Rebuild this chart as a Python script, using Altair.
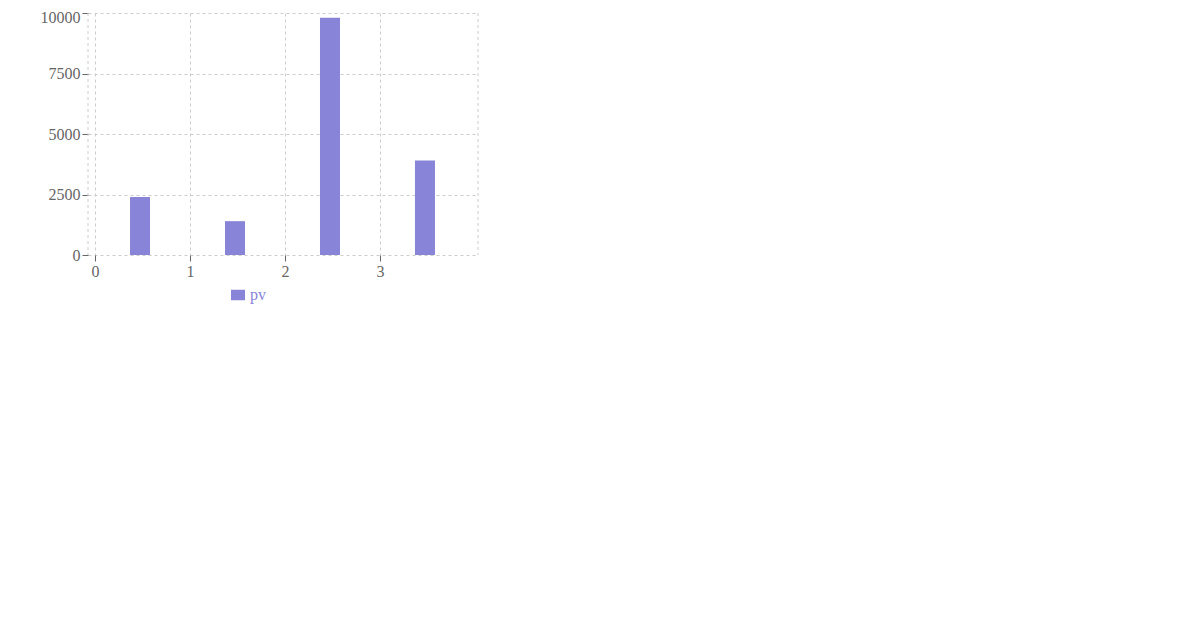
import altair as alt
import pandas as pd

# data
positions = [0.5, 1.5, 2.5, 3.5]
pv = [2400, 1398, 9800, 3908]
series = ["pv", "pv", "pv", "pv"]
x_ticks = [0, 1, 2, 3]
y_ticks = [0, 2500, 5000, 7500, 10000]
x_domain = [-0.074, 4.032]
x_edges = [-0.074, 4.032]

bars_df = pd.DataFrame({"x": positions, "pv": pv, "series": series})
edges_df = pd.DataFrame({"gx": x_edges})

xscale = alt.Scale(domain=x_domain, nice=False, zero=False, padding=0)
yscale = alt.Scale(domain=[0, 10000], nice=False)

xaxis = alt.Axis(
    values=x_ticks, title=None, grid=True, gridDash=[3, 3], gridColor="#ccc",
    domain=False, tickSize=6, tickColor="#666", labelPadding=2,
    format="d", labelFlush=False)

bars = alt.Chart(bars_df).mark_bar(size=20, xOffset=-2.5).encode(
    x=alt.X("x:Q", scale=xscale, axis=xaxis),
    y=alt.Y("pv:Q", scale=yscale, axis=alt.Axis(
        values=y_ticks, title=None, grid=True, gridDash=[3, 3], gridColor="#ccc",
        domain=False, tickSize=6, tickColor="#666", labelPadding=2,
        labelOffset={"condition": {"test": "datum.value == 10000", "value": 4}, "value": 0},
        format="d", labelFlush=False)),
    color=alt.Color("series:N", scale=alt.Scale(range=["#8884d8"]),
                    legend=alt.Legend(title=None, orient="none", legendX=142, legendY=274,
                                      symbolType="M-1,-0.75H1V0.75H-1Z", symbolSize=196,
                                      symbolStrokeWidth=0, labelColor="#8884d8",
                                      labelFont="Liberation Serif", labelFontSize=16,
                                      labelOffset=4)),
)

edges = alt.Chart(edges_df).mark_rule(strokeDash=[3, 3], color="#ccc", strokeWidth=1).encode(
    x=alt.X("gx:Q", scale=xscale, axis=xaxis)
)

chart = alt.layer(bars, edges).properties(
    width=390, height=242,
    padding={"left": 80, "top": 5, "right": 20, "bottom": 60},
    autosize="none",
).configure_view(stroke=None).configure_axis(
    labelFont="Liberation Serif", labelFontSize=16, labelColor="#666"
)

chart.save("out.html", embed_options={"renderer": "svg", "actions": False})
